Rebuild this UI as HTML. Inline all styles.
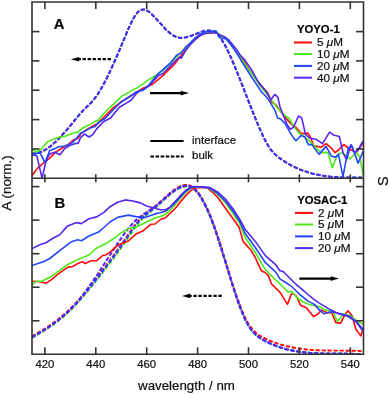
<!DOCTYPE html>
<html><head><meta charset="utf-8"><style>
html,body{margin:0;padding:0;background:#fff;width:389px;height:394px;overflow:hidden}
svg{display:block;font-family:"Liberation Sans",sans-serif;will-change:transform}
text{stroke:#111;stroke-width:0.22px}
</style></head><body>
<svg width="389" height="394" viewBox="0 0 389 394">
<rect width="389" height="394" fill="#fff"/>
<defs><clipPath id="ca"><rect x="32" y="2" width="331.5" height="176.3"/></clipPath><clipPath id="cb"><rect x="32" y="178.3" width="331.5" height="176"/></clipPath></defs>
<g clip-path="url(#ca)">
<path d="M32.0 153.5 L33.5 153.6 L35.0 153.5 L36.5 153.3 L38.0 152.9 L39.5 152.5 L41.0 151.9 L42.5 151.3 L44.0 150.5 L45.5 149.7 L47.0 148.7 L48.5 147.7 L50.0 146.6 L51.5 145.4 L53.0 144.1 L54.5 142.8 L56.0 141.4 L57.5 139.9 L59.0 138.4 L60.5 136.8 L62.0 135.2 L63.5 133.6 L65.0 131.9 L66.5 130.2 L68.0 128.4 L69.5 126.6 L71.0 124.8 L72.5 123.0 L74.0 121.2 L75.5 119.3 L77.0 117.5 L78.5 115.7 L80.0 113.9 L81.5 112.2 L83.0 110.6 L84.5 109.0 L86.0 107.5 L87.5 106.1 L89.0 104.7 L90.5 103.2 L92.0 101.7 L93.5 99.9 L95.0 98.0 L96.5 96.0 L98.0 93.8 L99.5 91.4 L101.0 88.9 L102.5 86.3 L104.0 83.5 L105.5 80.7 L107.0 77.7 L108.5 74.6 L110.0 71.5 L111.5 68.2 L113.0 64.9 L114.5 61.6 L116.0 58.2 L117.5 54.7 L119.0 51.2 L120.5 47.6 L122.0 44.1 L123.5 40.5 L125.0 36.9 L126.5 33.3 L128.0 29.8 L129.5 26.4 L131.0 23.2 L132.5 20.2 L134.0 17.5 L135.5 15.1 L137.0 13.1 L138.5 11.5 L140.0 10.4 L141.5 9.7 L143.0 9.5 L144.5 9.6 L146.0 10.1 L147.5 10.9 L149.0 11.9 L150.5 13.1 L152.0 14.5 L153.5 16.0 L155.0 17.5 L156.5 19.1 L158.0 20.8 L159.5 22.5 L161.0 24.1 L162.5 25.8 L164.0 27.4 L165.5 29.0 L167.0 30.5 L168.5 31.9 L170.0 33.1 L171.5 34.3 L173.0 35.3 L174.5 36.1 L176.0 36.8 L177.5 37.3 L179.0 37.6 L180.5 37.8 L182.0 37.8 L183.5 37.7 L185.0 37.5 L186.5 37.2 L188.0 36.8 L189.5 36.4 L191.0 35.9 L192.5 35.3 L194.0 34.7 L195.5 34.1 L197.0 33.5 L198.5 32.8 L200.0 32.3 L201.5 31.7 L203.0 31.3 L204.5 30.9 L206.0 30.6 L207.5 30.5 L209.0 30.5 L210.5 30.6 L212.0 30.9 L213.5 31.5 L215.0 32.3 L216.5 33.4 L218.0 34.9 L219.5 36.7 L221.0 38.7 L222.5 41.0 L224.0 43.5 L225.5 46.3 L227.0 49.2 L228.5 52.2 L230.0 55.5 L231.5 58.8 L233.0 62.3 L234.5 65.8 L236.0 69.5 L237.5 73.1 L239.0 76.9 L240.5 80.7 L242.0 84.5 L243.5 88.3 L245.0 92.1 L246.5 95.9 L248.0 99.8 L249.5 103.6 L251.0 107.4 L252.5 111.2 L254.0 114.9 L255.5 118.7 L257.0 122.3 L258.5 125.9 L260.0 129.4 L261.5 132.7 L263.0 135.9 L264.5 139.0 L266.0 141.9 L267.5 144.5 L269.0 147.0 L270.5 149.2 L272.0 151.1 L273.5 152.8 L275.0 154.3 L276.5 155.7 L278.0 156.9 L279.5 158.0 L281.0 159.1 L282.5 160.1 L284.0 161.1 L285.5 162.0 L287.0 163.0 L288.5 163.8 L290.0 164.7 L291.5 165.5 L293.0 166.3 L294.5 167.0 L296.0 167.7 L297.5 168.4 L299.0 169.0 L300.5 169.7 L302.0 170.2 L303.5 170.8 L305.0 171.3 L306.5 171.8 L308.0 172.3 L309.5 172.8 L311.0 173.2 L312.5 173.6 L314.0 174.0 L315.5 174.3 L317.0 174.6 L318.5 174.9 L320.0 175.2 L321.5 175.5 L323.0 175.7 L324.5 176.0 L326.0 176.2 L327.5 176.4 L329.0 176.5 L330.5 176.7 L332.0 176.8 L333.5 177.0 L335.0 177.1 L336.5 177.2 L338.0 177.3 L339.5 177.3 L341.0 177.4 L342.5 177.4 L344.0 177.5 L345.5 177.5 L347.0 177.5 L348.5 177.6 L350.0 177.6 L351.5 177.6 L353.0 177.6 L354.5 177.6 L356.0 177.6 L357.5 177.5 L359.0 177.5 L360.5 177.5 L362.0 177.5" stroke="#4ee818" stroke-width="1.5" fill="none" stroke-dasharray="4.2 1.8" stroke-dashoffset="0.4"/>
<path d="M32.0 153.5 L33.5 153.6 L35.0 153.5 L36.5 153.3 L38.0 152.9 L39.5 152.5 L41.0 151.9 L42.5 151.3 L44.0 150.5 L45.5 149.7 L47.0 148.7 L48.5 147.7 L50.0 146.6 L51.5 145.4 L53.0 144.1 L54.5 142.8 L56.0 141.4 L57.5 139.9 L59.0 138.4 L60.5 136.8 L62.0 135.2 L63.5 133.6 L65.0 131.9 L66.5 130.2 L68.0 128.4 L69.5 126.6 L71.0 124.8 L72.5 123.0 L74.0 121.2 L75.5 119.3 L77.0 117.5 L78.5 115.7 L80.0 113.9 L81.5 112.2 L83.0 110.6 L84.5 109.0 L86.0 107.5 L87.5 106.1 L89.0 104.7 L90.5 103.2 L92.0 101.7 L93.5 99.9 L95.0 98.0 L96.5 96.0 L98.0 93.8 L99.5 91.4 L101.0 88.9 L102.5 86.3 L104.0 83.5 L105.5 80.7 L107.0 77.7 L108.5 74.6 L110.0 71.5 L111.5 68.2 L113.0 64.9 L114.5 61.6 L116.0 58.2 L117.5 54.7 L119.0 51.2 L120.5 47.6 L122.0 44.1 L123.5 40.5 L125.0 36.9 L126.5 33.3 L128.0 29.8 L129.5 26.4 L131.0 23.2 L132.5 20.2 L134.0 17.5 L135.5 15.1 L137.0 13.1 L138.5 11.5 L140.0 10.4 L141.5 9.7 L143.0 9.5 L144.5 9.6 L146.0 10.1 L147.5 10.9 L149.0 11.9 L150.5 13.1 L152.0 14.5 L153.5 16.0 L155.0 17.5 L156.5 19.1 L158.0 20.8 L159.5 22.5 L161.0 24.1 L162.5 25.8 L164.0 27.4 L165.5 29.0 L167.0 30.5 L168.5 31.9 L170.0 33.1 L171.5 34.3 L173.0 35.3 L174.5 36.1 L176.0 36.8 L177.5 37.3 L179.0 37.6 L180.5 37.8 L182.0 37.8 L183.5 37.7 L185.0 37.5 L186.5 37.2 L188.0 36.8 L189.5 36.4 L191.0 35.9 L192.5 35.3 L194.0 34.7 L195.5 34.1 L197.0 33.5 L198.5 32.8 L200.0 32.3 L201.5 31.7 L203.0 31.3 L204.5 30.9 L206.0 30.6 L207.5 30.5 L209.0 30.5 L210.5 30.6 L212.0 30.9 L213.5 31.5 L215.0 32.3 L216.5 33.4 L218.0 34.9 L219.5 36.7 L221.0 38.7 L222.5 41.0 L224.0 43.5 L225.5 46.3 L227.0 49.2 L228.5 52.2 L230.0 55.5 L231.5 58.8 L233.0 62.3 L234.5 65.8 L236.0 69.5 L237.5 73.1 L239.0 76.9 L240.5 80.7 L242.0 84.5 L243.5 88.3 L245.0 92.1 L246.5 95.9 L248.0 99.8 L249.5 103.6 L251.0 107.4 L252.5 111.2 L254.0 114.9 L255.5 118.7 L257.0 122.3 L258.5 125.9 L260.0 129.4 L261.5 132.7 L263.0 135.9 L264.5 139.0 L266.0 141.9 L267.5 144.5 L269.0 147.0 L270.5 149.2 L272.0 151.1 L273.5 152.8 L275.0 154.3 L276.5 155.7 L278.0 156.9 L279.5 158.0 L281.0 159.1 L282.5 160.1 L284.0 161.1 L285.5 162.0 L287.0 163.0 L288.5 163.8 L290.0 164.7 L291.5 165.5 L293.0 166.3 L294.5 167.0 L296.0 167.7 L297.5 168.4 L299.0 169.0 L300.5 169.7 L302.0 170.2 L303.5 170.8 L305.0 171.3 L306.5 171.8 L308.0 172.3 L309.5 172.8 L311.0 173.2 L312.5 173.6 L314.0 174.0 L315.5 174.3 L317.0 174.6 L318.5 174.9 L320.0 175.2 L321.5 175.5 L323.0 175.7 L324.5 176.0 L326.0 176.2 L327.5 176.4 L329.0 176.5 L330.5 176.7 L332.0 176.8 L333.5 177.0 L335.0 177.1 L336.5 177.2 L338.0 177.3 L339.5 177.3 L341.0 177.4 L342.5 177.4 L344.0 177.5 L345.5 177.5 L347.0 177.5 L348.5 177.6 L350.0 177.6 L351.5 177.6 L353.0 177.6 L354.5 177.6 L356.0 177.6 L357.5 177.5 L359.0 177.5 L360.5 177.5 L362.0 177.5" stroke="#ff0808" stroke-width="1.2" fill="none" stroke-dasharray="4.2 1.8" stroke-dashoffset="0.2"/>
<path d="M32.0 153.5 L33.5 153.6 L35.0 153.5 L36.5 153.3 L38.0 152.9 L39.5 152.5 L41.0 151.9 L42.5 151.3 L44.0 150.5 L45.5 149.7 L47.0 148.7 L48.5 147.7 L50.0 146.6 L51.5 145.4 L53.0 144.1 L54.5 142.8 L56.0 141.4 L57.5 139.9 L59.0 138.4 L60.5 136.8 L62.0 135.2 L63.5 133.6 L65.0 131.9 L66.5 130.2 L68.0 128.4 L69.5 126.6 L71.0 124.8 L72.5 123.0 L74.0 121.2 L75.5 119.3 L77.0 117.5 L78.5 115.7 L80.0 113.9 L81.5 112.2 L83.0 110.6 L84.5 109.0 L86.0 107.5 L87.5 106.1 L89.0 104.7 L90.5 103.2 L92.0 101.7 L93.5 99.9 L95.0 98.0 L96.5 96.0 L98.0 93.8 L99.5 91.4 L101.0 88.9 L102.5 86.3 L104.0 83.5 L105.5 80.7 L107.0 77.7 L108.5 74.6 L110.0 71.5 L111.5 68.2 L113.0 64.9 L114.5 61.6 L116.0 58.2 L117.5 54.7 L119.0 51.2 L120.5 47.6 L122.0 44.1 L123.5 40.5 L125.0 36.9 L126.5 33.3 L128.0 29.8 L129.5 26.4 L131.0 23.2 L132.5 20.2 L134.0 17.5 L135.5 15.1 L137.0 13.1 L138.5 11.5 L140.0 10.4 L141.5 9.7 L143.0 9.5 L144.5 9.6 L146.0 10.1 L147.5 10.9 L149.0 11.9 L150.5 13.1 L152.0 14.5 L153.5 16.0 L155.0 17.5 L156.5 19.1 L158.0 20.8 L159.5 22.5 L161.0 24.1 L162.5 25.8 L164.0 27.4 L165.5 29.0 L167.0 30.5 L168.5 31.9 L170.0 33.1 L171.5 34.3 L173.0 35.3 L174.5 36.1 L176.0 36.8 L177.5 37.3 L179.0 37.6 L180.5 37.8 L182.0 37.8 L183.5 37.7 L185.0 37.5 L186.5 37.2 L188.0 36.8 L189.5 36.4 L191.0 35.9 L192.5 35.3 L194.0 34.7 L195.5 34.1 L197.0 33.5 L198.5 32.8 L200.0 32.3 L201.5 31.7 L203.0 31.3 L204.5 30.9 L206.0 30.6 L207.5 30.5 L209.0 30.5 L210.5 30.6 L212.0 30.9 L213.5 31.5 L215.0 32.3 L216.5 33.4 L218.0 34.9 L219.5 36.7 L221.0 38.7 L222.5 41.0 L224.0 43.5 L225.5 46.3 L227.0 49.2 L228.5 52.2 L230.0 55.5 L231.5 58.8 L233.0 62.3 L234.5 65.8 L236.0 69.5 L237.5 73.1 L239.0 76.9 L240.5 80.7 L242.0 84.5 L243.5 88.3 L245.0 92.1 L246.5 95.9 L248.0 99.8 L249.5 103.6 L251.0 107.4 L252.5 111.2 L254.0 114.9 L255.5 118.7 L257.0 122.3 L258.5 125.9 L260.0 129.4 L261.5 132.7 L263.0 135.9 L264.5 139.0 L266.0 141.9 L267.5 144.5 L269.0 147.0 L270.5 149.2 L272.0 151.1 L273.5 152.8 L275.0 154.3 L276.5 155.7 L278.0 156.9 L279.5 158.0 L281.0 159.1 L282.5 160.1 L284.0 161.1 L285.5 162.0 L287.0 163.0 L288.5 163.8 L290.0 164.7 L291.5 165.5 L293.0 166.3 L294.5 167.0 L296.0 167.7 L297.5 168.4 L299.0 169.0 L300.5 169.7 L302.0 170.2 L303.5 170.8 L305.0 171.3 L306.5 171.8 L308.0 172.3 L309.5 172.8 L311.0 173.2 L312.5 173.6 L314.0 174.0 L315.5 174.3 L317.0 174.6 L318.5 174.9 L320.0 175.2 L321.5 175.5 L323.0 175.7 L324.5 176.0 L326.0 176.2 L327.5 176.4 L329.0 176.5 L330.5 176.7 L332.0 176.8 L333.5 177.0 L335.0 177.1 L336.5 177.2 L338.0 177.3 L339.5 177.3 L341.0 177.4 L342.5 177.4 L344.0 177.5 L345.5 177.5 L347.0 177.5 L348.5 177.6 L350.0 177.6 L351.5 177.6 L353.0 177.6 L354.5 177.6 L356.0 177.6 L357.5 177.5 L359.0 177.5 L360.5 177.5 L362.0 177.5" stroke="#2446fa" stroke-width="2.2" fill="none" stroke-dasharray="4.2 1.8" stroke-dashoffset="0"/>
<path d="M32.0 153.5 L33.5 153.6 L35.0 153.5 L36.5 153.3 L38.0 152.9 L39.5 152.5 L41.0 151.9 L42.5 151.3 L44.0 150.5 L45.5 149.7 L47.0 148.7 L48.5 147.7 L50.0 146.6 L51.5 145.4 L53.0 144.1 L54.5 142.8 L56.0 141.4 L57.5 139.9 L59.0 138.4 L60.5 136.8 L62.0 135.2 L63.5 133.6 L65.0 131.9 L66.5 130.2 L68.0 128.4 L69.5 126.6 L71.0 124.8 L72.5 123.0 L74.0 121.2 L75.5 119.3 L77.0 117.5 L78.5 115.7 L80.0 113.9 L81.5 112.2 L83.0 110.6 L84.5 109.0 L86.0 107.5 L87.5 106.1 L89.0 104.7 L90.5 103.2 L92.0 101.7 L93.5 99.9 L95.0 98.0 L96.5 96.0 L98.0 93.8 L99.5 91.4 L101.0 88.9 L102.5 86.3 L104.0 83.5 L105.5 80.7 L107.0 77.7 L108.5 74.6 L110.0 71.5 L111.5 68.2 L113.0 64.9 L114.5 61.6 L116.0 58.2 L117.5 54.7 L119.0 51.2 L120.5 47.6 L122.0 44.1 L123.5 40.5 L125.0 36.9 L126.5 33.3 L128.0 29.8 L129.5 26.4 L131.0 23.2 L132.5 20.2 L134.0 17.5 L135.5 15.1 L137.0 13.1 L138.5 11.5 L140.0 10.4 L141.5 9.7 L143.0 9.5 L144.5 9.6 L146.0 10.1 L147.5 10.9 L149.0 11.9 L150.5 13.1 L152.0 14.5 L153.5 16.0 L155.0 17.5 L156.5 19.1 L158.0 20.8 L159.5 22.5 L161.0 24.1 L162.5 25.8 L164.0 27.4 L165.5 29.0 L167.0 30.5 L168.5 31.9 L170.0 33.1 L171.5 34.3 L173.0 35.3 L174.5 36.1 L176.0 36.8 L177.5 37.3 L179.0 37.6 L180.5 37.8 L182.0 37.8 L183.5 37.7 L185.0 37.5 L186.5 37.2 L188.0 36.8 L189.5 36.4 L191.0 35.9 L192.5 35.3 L194.0 34.7 L195.5 34.1 L197.0 33.5 L198.5 32.8 L200.0 32.3 L201.5 31.7 L203.0 31.3 L204.5 30.9 L206.0 30.6 L207.5 30.5 L209.0 30.5 L210.5 30.6 L212.0 30.9 L213.5 31.5 L215.0 32.3 L216.5 33.4 L218.0 34.9 L219.5 36.7 L221.0 38.7 L222.5 41.0 L224.0 43.5 L225.5 46.3 L227.0 49.2 L228.5 52.2 L230.0 55.5 L231.5 58.8 L233.0 62.3 L234.5 65.8 L236.0 69.5 L237.5 73.1 L239.0 76.9 L240.5 80.7 L242.0 84.5 L243.5 88.3 L245.0 92.1 L246.5 95.9 L248.0 99.8 L249.5 103.6 L251.0 107.4 L252.5 111.2 L254.0 114.9 L255.5 118.7 L257.0 122.3 L258.5 125.9 L260.0 129.4 L261.5 132.7 L263.0 135.9 L264.5 139.0 L266.0 141.9 L267.5 144.5 L269.0 147.0 L270.5 149.2 L272.0 151.1 L273.5 152.8 L275.0 154.3 L276.5 155.7 L278.0 156.9 L279.5 158.0 L281.0 159.1 L282.5 160.1 L284.0 161.1 L285.5 162.0 L287.0 163.0 L288.5 163.8 L290.0 164.7 L291.5 165.5 L293.0 166.3 L294.5 167.0 L296.0 167.7 L297.5 168.4 L299.0 169.0 L300.5 169.7 L302.0 170.2 L303.5 170.8 L305.0 171.3 L306.5 171.8 L308.0 172.3 L309.5 172.8 L311.0 173.2 L312.5 173.6 L314.0 174.0 L315.5 174.3 L317.0 174.6 L318.5 174.9 L320.0 175.2 L321.5 175.5 L323.0 175.7 L324.5 176.0 L326.0 176.2 L327.5 176.4 L329.0 176.5 L330.5 176.7 L332.0 176.8 L333.5 177.0 L335.0 177.1 L336.5 177.2 L338.0 177.3 L339.5 177.3 L341.0 177.4 L342.5 177.4 L344.0 177.5 L345.5 177.5 L347.0 177.5 L348.5 177.6 L350.0 177.6 L351.5 177.6 L353.0 177.6 L354.5 177.6 L356.0 177.6 L357.5 177.5 L359.0 177.5 L360.5 177.5 L362.0 177.5" stroke="#5426f0" stroke-width="1.5" fill="none" stroke-dasharray="4.2 1.8" stroke-dashoffset="0"/>
<path d="M32.0 175.7 L37.6 168.1 L42.7 163.7 L49.0 158.6 L56.2 151.6 L62.3 148.0 L68.4 144.3 L73.3 140.0 L78.2 138.2 L81.2 133.3 L86.7 129.7 L91.6 126.6 L98.0 123.1 L105.6 115.5 L113.2 107.9 L120.8 102.2 L129.7 96.5 L136.0 92.7 L143.0 88.2 L152.2 84.5 L164.4 74.3 L173.5 65.2 L182.7 53.7 L185.0 50.7 L190.1 44.6 L195.3 39.4 L200.4 35.3 L205.6 33.2 L210.7 33.0 L215.8 32.2 L220.0 35.0 L224.0 37.1 L229.0 41.5 L235.4 49.5 L240.5 56.5 L244.3 62.0 L249.6 70.2 L258.7 82.4 L267.8 93.0 L271.6 102.1 L275.4 104.4 L282.6 114.0 L287.7 120.4 L292.8 125.5 L296.6 128.0 L300.4 133.1 L304.2 133.7 L308.0 133.1 L310.0 136.3 L313.7 145.5 L320.8 147.3 L326.1 143.7 L331.4 148.2 L335.0 152.6 L338.5 150.0 L343.9 144.6 L351.0 150.0 L356.3 152.6 L362.5 143.7 L366.0 140.0" stroke="#ff0808" stroke-width="1.6" fill="none" stroke-linejoin="round"/>
<path d="M32.0 149.0 L36.3 152.2 L41.4 149.0 L47.8 141.4 L54.1 139.1 L59.9 137.0 L64.8 136.4 L69.6 134.6 L74.5 132.5 L78.2 132.1 L81.8 128.5 L86.7 126.0 L91.6 123.6 L95.2 121.1 L98.0 120.6 L104.3 113.0 L110.7 106.6 L114.5 103.4 L122.1 95.8 L125.9 94.2 L132.2 90.1 L136.0 88.6 L143.0 83.8 L147.6 80.4 L155.2 75.8 L162.9 70.5 L170.5 63.6 L178.1 55.2 L185.0 48.8 L190.1 43.5 L195.3 38.3 L200.4 34.2 L205.6 32.1 L210.7 31.9 L215.8 31.1 L220.0 35.2 L224.0 37.3 L229.0 41.8 L235.4 50.0 L240.5 57.5 L245.0 64.5 L252.6 74.8 L258.7 83.9 L264.8 91.5 L270.9 99.1 L276.9 107.5 L283.9 114.7 L289.0 118.5 L294.0 126.7 L299.1 133.1 L305.5 137.5 L311.8 143.3 L320.8 152.6 L327.9 152.6 L332.3 167.7 L337.6 154.4 L342.1 152.6 L350.1 158.8 L356.3 152.6 L359.8 157.1 L363.4 175.7 L366.0 180.0" stroke="#4ee818" stroke-width="1.6" fill="none" stroke-linejoin="round"/>
<path d="M32.0 153.9 L36.9 156.1 L42.1 178.4 L45.5 163.0 L49.0 154.5 L52.2 153.0 L55.0 152.2 L59.9 154.7 L64.8 148.6 L70.9 144.9 L74.5 143.7 L78.2 143.1 L80.6 137.6 L84.3 134.0 L89.1 137.0 L92.8 134.6 L96.5 129.1 L100.0 125.4 L104.3 121.2 L110.7 118.0 L114.5 113.0 L119.5 107.2 L125.9 103.4 L131.0 100.3 L136.0 93.9 L139.8 90.8 L143.0 90.1 L149.1 85.7 L158.3 75.8 L162.9 73.5 L170.5 65.9 L179.6 56.8 L181.2 58.3 L185.5 50.9 L190.1 44.6 L195.3 39.4 L200.4 35.3 L205.6 33.2 L210.7 33.0 L215.8 32.2 L218.3 34.5 L224.0 36.4 L229.0 40.2 L235.4 47.9 L240.5 55.5 L244.3 59.3 L250.3 67.9 L252.6 71.7 L257.2 80.1 L260.2 84.7 L266.3 91.5 L270.9 99.9 L274.7 94.5 L277.7 96.8 L280.0 106.7 L283.3 115.3 L287.1 124.8 L290.2 129.3 L293.4 127.4 L298.5 116.0 L301.7 117.9 L305.5 134.4 L309.9 138.2 L316.3 139.3 L322.5 143.7 L329.6 132.2 L333.2 134.9 L339.4 136.6 L343.0 152.6 L346.5 159.7 L351.0 144.6 L354.5 152.6 L358.1 150.0 L362.5 142.0 L366.0 138.0" stroke="#5426f0" stroke-width="1.6" fill="none" stroke-linejoin="round"/>
<path d="M32.0 155.7 L36.0 153.5 L40.1 152.9 L45.0 162.6 L49.6 150.8 L55.0 148.6 L58.7 146.8 L64.8 146.1 L68.4 144.9 L73.3 141.9 L80.6 133.3 L85.5 130.9 L90.4 127.9 L95.2 126.6 L98.0 123.1 L105.6 118.0 L113.2 109.8 L120.8 102.2 L125.9 99.0 L131.0 95.8 L136.0 92.0 L143.0 90.1 L147.6 86.5 L158.3 73.5 L162.9 69.7 L170.5 62.9 L176.6 55.2 L181.2 53.0 L185.7 47.0 L190.1 43.1 L195.3 37.9 L200.4 33.8 L205.6 31.7 L210.7 31.5 L215.8 30.9 L220.2 37.7 L226.5 39.0 L235.4 51.0 L244.3 65.6 L251.1 76.3 L257.2 85.4 L261.7 92.3 L266.3 96.8 L270.1 102.1 L275.4 111.3 L277.5 117.9 L280.7 119.1 L285.2 123.6 L289.0 130.6 L292.8 136.9 L296.0 140.7 L301.0 135.6 L304.8 136.9 L308.3 144.6 L311.9 144.6 L319.0 154.4 L326.1 146.4 L331.4 156.2 L335.9 157.1 L338.5 154.4 L343.0 176.6 L348.3 148.2 L351.8 145.5 L358.1 163.3 L363.4 150.9 L366.0 146.0" stroke="#2446fa" stroke-width="1.6" fill="none" stroke-linejoin="round"/>
</g>
<g clip-path="url(#cb)">
<path d="M32.0 338.1 L33.5 337.2 L35.0 336.4 L36.5 335.5 L38.0 334.6 L39.5 333.7 L41.0 332.8 L42.5 331.9 L44.0 331.0 L45.5 330.1 L47.0 329.1 L48.5 328.1 L50.0 327.1 L51.5 326.1 L53.0 325.0 L54.5 323.9 L56.0 322.8 L57.5 321.7 L59.1 320.5 L60.6 319.2 L62.1 318.0 L63.6 316.7 L65.1 315.4 L66.7 314.0 L68.2 312.6 L69.7 311.1 L71.3 309.6 L72.9 308.0 L74.4 306.4 L76.0 304.8 L77.6 303.1 L79.2 301.3 L80.8 299.5 L82.5 297.6 L84.1 295.7 L85.8 293.7 L87.5 291.7 L89.2 289.6 L90.9 287.5 L92.6 285.4 L94.4 283.2 L96.1 281.1 L97.9 278.8 L99.7 276.6 L101.5 274.4 L103.2 272.1 L105.0 269.8 L106.8 267.5 L108.6 265.2 L110.4 262.9 L112.2 260.5 L113.9 258.2 L115.6 255.9 L117.3 253.6 L119.0 251.3 L120.7 249.0 L122.3 246.7 L123.8 244.5 L125.4 242.3 L126.9 240.1 L128.4 237.9 L129.8 235.8 L131.2 233.7 L132.6 231.8 L133.9 229.8 L135.2 228.0 L136.5 226.2 L137.7 224.6 L139.0 223.0 L140.2 221.5 L141.4 220.2 L142.6 218.9 L143.8 217.7 L145.0 216.6 L146.3 215.5 L147.5 214.5 L148.7 213.5 L149.9 212.5 L151.2 211.5 L152.5 210.5 L153.7 209.5 L155.0 208.5 L156.3 207.4 L157.7 206.2 L159.0 205.0 L160.4 203.7 L161.7 202.5 L163.1 201.2 L164.5 199.8 L166.0 198.5 L167.4 197.2 L168.8 196.0 L170.3 194.7 L171.7 193.6 L173.2 192.4 L174.6 191.4 L176.1 190.4 L177.6 189.5 L179.1 188.7 L180.6 188.1 L182.0 187.5 L183.5 187.1 L185.0 186.9 L186.5 186.8 L188.0 186.9 L189.5 187.3 L191.0 187.8 L192.5 188.6 L194.0 189.7 L195.5 191.1 L197.0 192.7 L198.5 194.6 L200.0 196.8 L201.5 199.2 L203.0 201.8 L204.5 204.6 L206.0 207.7 L207.5 210.9 L209.0 214.3 L210.5 217.9 L212.0 221.8 L213.5 225.8 L215.0 230.1 L216.5 234.5 L218.0 239.0 L219.5 243.7 L221.0 248.4 L222.5 253.2 L224.0 258.1 L225.5 263.0 L227.0 267.9 L228.5 272.8 L230.0 277.7 L231.5 282.5 L233.0 287.2 L234.5 291.8 L236.0 296.3 L237.5 300.7 L239.0 304.9 L240.5 308.9 L242.0 312.7 L243.5 316.2 L245.0 319.5 L246.5 322.5 L248.0 325.2 L249.5 327.6 L251.0 329.8 L252.5 331.6 L254.0 333.3 L255.5 334.8 L257.0 336.1 L258.5 337.2 L260.0 338.2 L261.5 339.2 L263.0 340.0 L264.5 340.8 L266.0 341.6 L267.5 342.3 L269.0 343.0 L270.5 343.6 L272.0 344.3 L273.5 344.9 L275.0 345.5 L276.5 346.0 L278.0 346.5 L279.5 347.0 L281.0 347.5 L282.5 347.9 L284.0 348.4 L285.5 348.8 L287.0 349.2 L288.5 349.5 L290.0 349.9 L291.5 350.2 L293.0 350.5 L294.5 350.8 L296.0 351.1 L297.5 351.3 L299.0 351.6 L300.5 351.8 L302.0 352.0 L303.5 352.2 L305.0 352.3 L306.5 352.5 L308.0 352.6 L309.5 352.8 L311.0 352.9 L312.5 353.0 L314.0 353.1 L315.5 353.2 L317.0 353.2 L318.5 353.3 L320.0 353.4 L321.5 353.4 L323.0 353.4 L324.5 353.5 L326.0 353.5 L327.5 353.5 L329.0 353.5 L330.5 353.6 L332.0 353.6 L333.5 353.6 L335.0 353.6 L336.5 353.6 L338.0 353.6 L339.5 353.6 L341.0 353.6 L342.5 353.6 L344.0 353.6 L345.5 353.6 L347.0 353.7 L348.5 353.7 L350.0 353.7 L351.5 353.7 L353.0 353.8 L354.5 353.8 L356.0 353.9 L357.5 353.9 L359.0 354.0 L360.5 354.1 L362.0 354.2" stroke="#4ee818" stroke-width="1.6" fill="none" stroke-dasharray="4.2 1.8" stroke-dashoffset="0.4"/>
<path d="M32.0 336.2 L33.5 335.3 L35.0 334.5 L36.5 333.6 L38.0 332.7 L39.5 331.8 L41.0 330.9 L42.5 330.0 L44.0 329.1 L45.5 328.2 L47.0 327.2 L48.5 326.2 L50.0 325.2 L51.5 324.2 L53.0 323.1 L54.5 322.0 L56.0 320.9 L57.5 319.8 L59.0 318.6 L60.6 317.3 L62.1 316.1 L63.6 314.8 L65.1 313.5 L66.6 312.1 L68.2 310.7 L69.7 309.2 L71.2 307.7 L72.8 306.1 L74.3 304.5 L75.9 302.9 L77.5 301.2 L79.1 299.4 L80.7 297.6 L82.3 295.7 L83.9 293.8 L85.5 291.8 L87.2 289.8 L88.9 287.7 L90.5 285.6 L92.2 283.5 L93.9 281.3 L95.6 279.2 L97.3 276.9 L99.1 274.7 L100.8 272.5 L102.5 270.2 L104.3 267.9 L106.0 265.6 L107.8 263.3 L109.5 261.0 L111.2 258.6 L112.9 256.3 L114.6 254.0 L116.2 251.7 L117.9 249.4 L119.5 247.1 L121.1 244.8 L122.7 242.6 L124.2 240.4 L125.7 238.2 L127.2 236.0 L128.6 233.9 L130.0 231.8 L131.4 229.9 L132.8 227.9 L134.1 226.1 L135.5 224.3 L136.8 222.7 L138.0 221.1 L139.3 219.6 L140.6 218.3 L141.9 217.0 L143.1 215.8 L144.4 214.7 L145.6 213.6 L146.9 212.6 L148.2 211.6 L149.5 210.6 L150.8 209.6 L152.1 208.6 L153.4 207.6 L154.7 206.6 L156.1 205.5 L157.5 204.3 L158.8 203.1 L160.2 201.8 L161.6 200.6 L163.0 199.3 L164.4 197.9 L165.9 196.6 L167.3 195.3 L168.8 194.1 L170.2 192.8 L171.7 191.7 L173.1 190.5 L174.6 189.5 L176.1 188.5 L177.6 187.6 L179.1 186.8 L180.5 186.2 L182.0 185.6 L183.5 185.2 L185.0 185.0 L186.5 184.9 L188.0 185.0 L189.5 185.4 L191.0 185.9 L192.5 186.7 L194.0 187.8 L195.5 189.2 L197.0 190.8 L198.5 192.7 L200.0 194.9 L201.5 197.3 L203.0 199.9 L204.5 202.7 L206.0 205.8 L207.5 209.0 L209.0 212.4 L210.5 216.0 L212.0 219.9 L213.5 223.9 L215.0 228.2 L216.5 232.6 L218.0 237.1 L219.5 241.8 L221.0 246.5 L222.5 251.3 L224.0 256.2 L225.5 261.1 L227.0 266.0 L228.5 270.8 L230.0 275.7 L231.5 280.5 L233.0 285.2 L234.5 289.8 L236.0 294.2 L237.5 298.6 L239.0 302.7 L240.5 306.7 L242.0 310.5 L243.5 314.0 L245.0 317.3 L246.5 320.2 L248.0 322.9 L249.5 325.3 L251.0 327.4 L252.5 329.2 L254.0 330.9 L255.5 332.3 L257.0 333.6 L258.5 334.7 L260.0 335.7 L261.5 336.6 L263.0 337.4 L264.5 338.2 L266.0 338.9 L267.5 339.6 L269.0 340.3 L270.5 340.9 L272.0 341.5 L273.5 342.1 L275.0 342.7 L276.5 343.2 L278.0 343.7 L279.5 344.1 L281.0 344.6 L282.5 345.0 L284.0 345.4 L285.5 345.8 L287.0 346.2 L288.5 346.5 L290.0 346.9 L291.5 347.2 L293.0 347.5 L294.5 347.8 L296.0 348.1 L297.5 348.3 L299.0 348.6 L300.5 348.8 L302.0 349.0 L303.5 349.2 L305.0 349.3 L306.5 349.5 L308.0 349.6 L309.5 349.8 L311.0 349.9 L312.5 350.0 L314.0 350.1 L315.5 350.2 L317.0 350.2 L318.5 350.3 L320.0 350.4 L321.5 350.4 L323.0 350.4 L324.5 350.5 L326.0 350.5 L327.5 350.5 L329.0 350.5 L330.5 350.6 L332.0 350.6 L333.5 350.6 L335.0 350.6 L336.5 350.6 L338.0 350.6 L339.5 350.6 L341.0 350.6 L342.5 350.6 L344.0 350.6 L345.5 350.6 L347.0 350.7 L348.5 350.7 L350.0 350.7 L351.5 350.7 L353.0 350.8 L354.5 350.8 L356.0 350.9 L357.5 350.9 L359.0 351.0 L360.5 351.1 L362.0 351.2" stroke="#ff0808" stroke-width="1.9" fill="none" stroke-dasharray="4.2 1.8" stroke-dashoffset="0.2"/>
<path d="M32.0 337.2 L33.5 336.3 L35.0 335.5 L36.5 334.6 L38.0 333.7 L39.5 332.8 L41.0 331.9 L42.5 331.0 L44.0 330.1 L45.5 329.2 L47.0 328.2 L48.5 327.2 L50.0 326.2 L51.5 325.2 L53.0 324.1 L54.5 323.0 L56.0 321.9 L57.5 320.8 L59.0 319.6 L60.6 318.3 L62.1 317.1 L63.6 315.8 L65.1 314.5 L66.6 313.1 L68.2 311.7 L69.7 310.2 L71.3 308.7 L72.8 307.1 L74.4 305.5 L75.9 303.9 L77.5 302.2 L79.1 300.4 L80.7 298.6 L82.3 296.7 L83.9 294.8 L85.6 292.8 L87.2 290.8 L88.9 288.7 L90.6 286.6 L92.3 284.5 L94.0 282.3 L95.7 280.2 L97.4 277.9 L99.2 275.7 L100.9 273.5 L102.7 271.2 L104.4 268.9 L106.2 266.6 L107.9 264.3 L109.6 262.0 L111.4 259.6 L113.1 257.3 L114.8 255.0 L116.4 252.7 L118.1 250.4 L119.7 248.1 L121.3 245.8 L122.9 243.6 L124.4 241.4 L125.9 239.2 L127.4 237.0 L128.8 234.9 L130.2 232.8 L131.6 230.9 L133.0 228.9 L134.3 227.1 L135.6 225.3 L136.9 223.7 L138.2 222.1 L139.5 220.6 L140.7 219.3 L142.0 218.0 L143.2 216.8 L144.5 215.7 L145.8 214.6 L147.0 213.6 L148.3 212.6 L149.6 211.6 L150.8 210.6 L152.1 209.6 L153.5 208.6 L154.8 207.6 L156.1 206.5 L157.5 205.3 L158.9 204.1 L160.2 202.8 L161.6 201.6 L163.0 200.3 L164.5 198.9 L165.9 197.6 L167.3 196.3 L168.8 195.1 L170.2 193.8 L171.7 192.7 L173.2 191.5 L174.6 190.5 L176.1 189.5 L177.6 188.6 L179.1 187.8 L180.6 187.2 L182.0 186.6 L183.5 186.2 L185.0 186.0 L186.5 185.9 L188.0 186.0 L189.5 186.4 L191.0 186.9 L192.5 187.7 L194.0 188.8 L195.5 190.2 L197.0 191.8 L198.5 193.7 L200.0 195.9 L201.5 198.3 L203.0 200.9 L204.5 203.7 L206.0 206.8 L207.5 210.0 L209.0 213.4 L210.5 217.0 L212.0 220.9 L213.5 224.9 L215.0 229.2 L216.5 233.6 L218.0 238.1 L219.5 242.8 L221.0 247.5 L222.5 252.3 L224.0 257.2 L225.5 262.1 L227.0 267.1 L228.5 272.0 L230.0 276.9 L231.5 281.7 L233.0 286.5 L234.5 291.1 L236.0 295.7 L237.5 300.1 L239.0 304.3 L240.5 308.3 L242.0 312.1 L243.5 315.7 L245.0 319.0 L246.5 322.1 L248.0 324.8 L249.5 327.2 L251.0 329.4 L252.5 331.3 L254.0 333.0 L255.5 334.5 L257.0 335.8 L258.5 337.0 L260.0 338.0 L261.5 339.0 L263.0 339.9 L264.5 340.7 L266.0 341.5 L267.5 342.2 L269.0 343.0 L270.5 343.7 L272.0 344.3 L273.5 345.0 L275.0 345.6 L276.5 346.1 L278.0 346.7 L279.5 347.2 L281.0 347.7 L282.5 348.2 L284.0 348.6 L285.5 349.1 L287.0 349.5 L288.5 349.8 L290.0 350.2 L291.5 350.5 L293.0 350.8 L294.5 351.1 L296.0 351.4 L297.5 351.6 L299.0 351.9 L300.5 352.1 L302.0 352.3 L303.5 352.5 L305.0 352.6 L306.5 352.8 L308.0 352.9 L309.5 353.1 L311.0 353.2 L312.5 353.3 L314.0 353.4 L315.5 353.5 L317.0 353.5 L318.5 353.6 L320.0 353.7 L321.5 353.7 L323.0 353.7 L324.5 353.8 L326.0 353.8 L327.5 353.8 L329.0 353.8 L330.5 353.9 L332.0 353.9 L333.5 353.9 L335.0 353.9 L336.5 353.9 L338.0 353.9 L339.5 353.9 L341.0 353.9 L342.5 353.9 L344.0 353.9 L345.5 353.9 L347.0 354.0 L348.5 354.0 L350.0 354.0 L351.5 354.0 L353.0 354.1 L354.5 354.1 L356.0 354.2 L357.5 354.2 L359.0 354.3 L360.5 354.4 L362.0 354.5" stroke="#2446fa" stroke-width="2.2" fill="none" stroke-dasharray="4.2 1.8" stroke-dashoffset="0"/>
<path d="M32.0 337.2 L33.5 336.3 L35.0 335.5 L36.5 334.6 L38.0 333.7 L39.5 332.8 L41.0 331.9 L42.5 331.0 L44.0 330.1 L45.5 329.2 L47.0 328.2 L48.5 327.2 L50.0 326.2 L51.5 325.2 L53.0 324.1 L54.5 323.0 L56.0 321.9 L57.5 320.8 L59.0 319.6 L60.5 318.3 L62.0 317.1 L63.5 315.8 L65.0 314.5 L66.5 313.1 L68.0 311.7 L69.5 310.2 L71.0 308.7 L72.5 307.1 L74.0 305.5 L75.5 303.9 L77.0 302.2 L78.5 300.4 L80.0 298.6 L81.5 296.7 L83.0 294.8 L84.5 292.8 L86.0 290.8 L87.5 288.7 L89.0 286.6 L90.5 284.5 L92.0 282.3 L93.5 280.2 L95.0 277.9 L96.5 275.7 L98.0 273.5 L99.5 271.2 L101.0 268.9 L102.5 266.6 L104.0 264.3 L105.5 262.0 L107.0 259.6 L108.5 257.3 L110.0 255.0 L111.5 252.7 L113.0 250.4 L114.5 248.1 L116.0 245.8 L117.5 243.6 L119.0 241.4 L120.5 239.2 L122.0 237.0 L123.5 234.9 L125.0 232.8 L126.5 230.9 L128.0 228.9 L129.5 227.1 L131.0 225.3 L132.5 223.7 L134.0 222.1 L135.5 220.6 L137.0 219.3 L138.5 218.0 L140.0 216.8 L141.5 215.7 L143.0 214.6 L144.5 213.6 L146.0 212.6 L147.5 211.6 L149.0 210.6 L150.5 209.6 L152.0 208.6 L153.5 207.6 L155.0 206.5 L156.5 205.3 L158.0 204.1 L159.5 202.8 L161.0 201.6 L162.5 200.3 L164.0 198.9 L165.5 197.6 L167.0 196.3 L168.5 195.1 L170.0 193.8 L171.5 192.7 L173.0 191.5 L174.5 190.5 L176.0 189.5 L177.5 188.6 L179.0 187.8 L180.5 187.2 L182.0 186.6 L183.5 186.2 L185.0 186.0 L186.5 185.9 L188.0 186.0 L189.5 186.4 L191.0 186.9 L192.5 187.7 L194.0 188.8 L195.5 190.2 L197.0 191.8 L198.5 193.7 L200.0 195.9 L201.5 198.3 L203.0 200.9 L204.5 203.7 L206.0 206.8 L207.5 210.0 L209.0 213.4 L210.5 217.0 L212.0 220.9 L213.5 224.9 L215.0 229.2 L216.5 233.6 L218.0 238.1 L219.5 242.8 L221.0 247.5 L222.5 252.3 L224.0 257.2 L225.5 262.1 L227.0 267.0 L228.5 272.0 L230.0 276.8 L231.5 281.7 L233.0 286.4 L234.5 291.1 L236.0 295.6 L237.5 300.0 L239.0 304.2 L240.5 308.2 L242.0 312.0 L243.5 315.6 L245.0 318.9 L246.5 321.9 L248.0 324.7 L249.5 327.1 L251.0 329.2 L252.5 331.2 L254.0 332.8 L255.5 334.3 L257.0 335.7 L258.5 336.8 L260.0 337.9 L261.5 338.8 L263.0 339.7 L264.5 340.5 L266.0 341.3 L267.5 342.0 L269.0 342.7 L270.5 343.4 L272.0 344.1 L273.5 344.7 L275.0 345.3 L276.5 345.9 L278.0 346.4 L279.5 347.0 L281.0 347.4 L282.5 347.9 L284.0 348.4 L285.5 348.8 L287.0 349.2 L288.5 349.5 L290.0 349.9 L291.5 350.2 L293.0 350.5 L294.5 350.8 L296.0 351.1 L297.5 351.3 L299.0 351.6 L300.5 351.8 L302.0 352.0 L303.5 352.2 L305.0 352.3 L306.5 352.5 L308.0 352.6 L309.5 352.8 L311.0 352.9 L312.5 353.0 L314.0 353.1 L315.5 353.2 L317.0 353.2 L318.5 353.3 L320.0 353.4 L321.5 353.4 L323.0 353.4 L324.5 353.5 L326.0 353.5 L327.5 353.5 L329.0 353.5 L330.5 353.6 L332.0 353.6 L333.5 353.6 L335.0 353.6 L336.5 353.6 L338.0 353.6 L339.5 353.6 L341.0 353.6 L342.5 353.6 L344.0 353.6 L345.5 353.6 L347.0 353.7 L348.5 353.7 L350.0 353.7 L351.5 353.7 L353.0 353.8 L354.5 353.8 L356.0 353.9 L357.5 353.9 L359.0 354.0 L360.5 354.1 L362.0 354.2" stroke="#5426f0" stroke-width="2.0" fill="none" stroke-dasharray="4.2 1.8" stroke-dashoffset="0"/>
<path d="M32.0 281.3 L39.9 281.7 L45.8 283.3 L51.8 279.3 L57.7 274.4 L67.6 267.4 L72.6 266.5 L77.6 263.6 L82.4 261.7 L85.2 263.6 L91.0 260.7 L96.7 260.7 L102.7 255.5 L106.5 254.7 L111.6 250.9 L115.4 247.1 L120.5 243.9 L128.3 241.0 L135.9 234.1 L142.7 231.1 L148.1 226.5 L151.1 224.2 L155.0 224.0 L161.2 219.0 L165.3 218.0 L169.4 213.9 L173.5 210.3 L176.6 206.7 L180.7 201.5 L185.8 195.4 L191.0 190.7 L195.0 187.7 L207.2 187.6 L213.3 192.9 L217.8 197.5 L225.4 208.2 L233.1 218.8 L239.1 227.2 L243.1 241.4 L251.2 250.5 L255.3 257.6 L261.4 270.8 L265.4 272.8 L268.5 275.9 L271.5 284.0 L279.9 292.1 L287.4 304.4 L291.5 293.7 L293.1 293.7 L296.4 296.2 L300.5 305.2 L306.3 307.7 L309.6 311.8 L313.5 316.6 L318.3 313.8 L321.2 309.9 L327.0 312.8 L331.8 312.8 L335.7 322.4 L340.5 323.4 L345.3 313.8 L348.2 310.9 L352.1 315.7 L355.9 329.2 L360.8 335.9 L363.6 327.3 L366.0 322.0" stroke="#ff0808" stroke-width="1.6" fill="none" stroke-linejoin="round"/>
<path d="M32.0 285.3 L35.9 281.3 L41.9 281.3 L49.8 277.3 L59.7 270.4 L67.6 264.5 L75.0 261.1 L79.5 258.8 L89.0 255.0 L96.3 248.3 L106.5 243.2 L115.4 237.5 L119.1 234.1 L128.3 228.8 L137.4 226.5 L146.5 222.0 L155.0 218.0 L160.1 216.4 L165.3 214.4 L170.4 209.8 L175.6 204.1 L180.7 197.9 L185.8 192.3 L191.0 188.2 L195.0 186.9 L204.4 186.8 L210.2 188.8 L217.8 194.5 L225.4 202.8 L233.1 213.5 L240.0 224.1 L245.1 237.3 L255.3 252.5 L265.4 269.8 L275.6 279.9 L281.6 285.5 L288.2 292.1 L291.5 291.2 L296.4 297.0 L303.0 302.0 L309.6 304.4 L316.2 306.1 L320.0 306.9 L325.1 309.9 L332.8 311.8 L337.6 321.5 L343.4 313.8 L350.1 315.7 L357.9 321.5 L363.6 324.4 L366.0 326.0" stroke="#4ee818" stroke-width="1.6" fill="none" stroke-linejoin="round"/>
<path d="M32.0 265.5 L37.9 263.5 L43.9 261.5 L49.8 258.5 L59.7 250.6 L67.6 244.7 L71.6 241.7 L77.6 239.8 L81.4 240.7 L89.0 236.0 L98.6 232.1 L106.2 225.5 L110.0 222.0 L117.6 217.4 L128.3 215.1 L135.9 216.6 L145.0 217.4 L155.0 213.9 L160.1 212.8 L165.3 211.3 L170.4 207.2 L175.6 202.1 L180.7 196.4 L185.8 191.3 L191.0 187.7 L195.0 186.6 L202.6 187.0 L210.2 188.4 L217.8 193.7 L225.4 201.3 L233.1 211.2 L240.0 221.9 L245.1 233.3 L255.3 247.5 L265.4 262.7 L275.6 271.8 L279.9 278.9 L286.5 283.0 L291.5 286.3 L299.7 294.5 L308.0 301.1 L314.5 304.4 L319.3 309.9 L324.1 313.8 L330.9 311.8 L340.5 313.8 L350.1 316.6 L357.9 323.4 L363.6 330.1 L366.0 333.0" stroke="#2446fa" stroke-width="1.6" fill="none" stroke-linejoin="round"/>
<path d="M32.0 248.6 L39.9 244.7 L45.8 242.7 L53.8 237.7 L59.7 234.8 L67.6 225.9 L76.7 222.6 L81.4 223.6 L89.0 218.8 L96.7 216.9 L104.3 212.1 L110.0 206.7 L117.6 202.2 L125.2 199.9 L132.8 201.0 L140.4 202.9 L146.5 206.0 L155.0 208.2 L160.1 209.8 L165.3 209.8 L169.4 207.7 L175.6 201.0 L180.7 195.4 L185.8 190.2 L191.0 187.1 L195.0 186.7 L202.6 186.8 L210.2 187.6 L217.8 192.2 L225.4 199.0 L233.1 208.9 L240.0 219.6 L245.1 229.2 L255.3 241.4 L265.4 255.6 L275.6 264.7 L279.9 270.7 L283.2 271.5 L291.5 279.7 L296.4 284.7 L301.4 288.8 L308.0 294.5 L312.9 298.7 L319.3 303.1 L328.9 308.9 L338.6 313.8 L348.2 316.6 L355.9 321.5 L363.6 332.1 L366.0 336.0" stroke="#5426f0" stroke-width="1.6" fill="none" stroke-linejoin="round"/>
</g>
<g stroke="#333" stroke-width="1.6" fill="none">
<path d="M32 2 H363.5 V354.3 H32 Z"/>
<path d="M32 178.3 H363.5"/>
<path d="M44.9 2 V9"/>
<path d="M44.9 174.3 V182.3"/>
<path d="M44.9 354.3 V347.3"/>
<path d="M95.8 2 V9"/>
<path d="M95.8 174.3 V182.3"/>
<path d="M95.8 354.3 V347.3"/>
<path d="M146.7 2 V9"/>
<path d="M146.7 174.3 V182.3"/>
<path d="M146.7 354.3 V347.3"/>
<path d="M197.6 2 V9"/>
<path d="M197.6 174.3 V182.3"/>
<path d="M197.6 354.3 V347.3"/>
<path d="M248.5 2 V9"/>
<path d="M248.5 174.3 V182.3"/>
<path d="M248.5 354.3 V347.3"/>
<path d="M299.4 2 V9"/>
<path d="M299.4 174.3 V182.3"/>
<path d="M299.4 354.3 V347.3"/>
<path d="M350.3 2 V9"/>
<path d="M350.3 174.3 V182.3"/>
<path d="M350.3 354.3 V347.3"/>
<path d="M32 149.0 H39.5"/><path d="M363.5 149.0 H356"/>
<path d="M32 119.6 H39.5"/><path d="M363.5 119.6 H356"/>
<path d="M32 90.2 H39.5"/><path d="M363.5 90.2 H356"/>
<path d="M32 60.9 H39.5"/><path d="M363.5 60.9 H356"/>
<path d="M32 31.6 H39.5"/><path d="M363.5 31.6 H356"/>
<path d="M32 320.8 H39.5"/><path d="M363.5 320.8 H356"/>
<path d="M32 287.2 H39.5"/><path d="M363.5 287.2 H356"/>
<path d="M32 253.7 H39.5"/><path d="M363.5 253.7 H356"/>
<path d="M32 220.1 H39.5"/><path d="M363.5 220.1 H356"/>
<path d="M32 186.6 H39.5"/><path d="M363.5 186.6 H356"/>
</g>
<text x="44.9" y="368.4" font-family="Liberation Sans, sans-serif" font-size="11.3" text-anchor="middle" fill="#111">420</text>
<text x="95.8" y="368.4" font-family="Liberation Sans, sans-serif" font-size="11.3" text-anchor="middle" fill="#111">440</text>
<text x="146.7" y="368.4" font-family="Liberation Sans, sans-serif" font-size="11.3" text-anchor="middle" fill="#111">460</text>
<text x="197.6" y="368.4" font-family="Liberation Sans, sans-serif" font-size="11.3" text-anchor="middle" fill="#111">480</text>
<text x="248.5" y="368.4" font-family="Liberation Sans, sans-serif" font-size="11.3" text-anchor="middle" fill="#111">500</text>
<text x="299.4" y="368.4" font-family="Liberation Sans, sans-serif" font-size="11.3" text-anchor="middle" fill="#111">520</text>
<text x="350.3" y="368.4" font-family="Liberation Sans, sans-serif" font-size="11.3" text-anchor="middle" fill="#111">540</text>
<text x="186.5" y="390" font-family="Liberation Sans, sans-serif" font-size="13.3" text-anchor="middle" fill="#111">wavelength / nm</text>
<text transform="translate(10.9 182.9) rotate(-90)" font-family="Liberation Sans, sans-serif" font-size="13.4" text-anchor="middle" fill="#111">A (norm.)</text>
<text transform="translate(387.6 181.3) rotate(-90)" font-family="Liberation Sans, sans-serif" font-size="14.4" text-anchor="middle" fill="#111">S</text>
<text x="53.8" y="28.7" font-family="Liberation Sans, sans-serif" font-size="14.8" font-weight="bold" fill="#000">A</text>
<text x="54.6" y="208.4" font-family="Liberation Sans, sans-serif" font-size="14.8" font-weight="bold" fill="#000">B</text>
<text x="297.0" y="33.4" font-family="Liberation Sans, sans-serif" font-size="11.3" font-weight="bold" fill="#000">YOYO-1</text>
<path d="M294.0 42.5 H312.0" stroke="#ff0808" stroke-width="2"/>
<text x="317.0" y="46.3" font-family="Liberation Sans, sans-serif" font-size="11.7" fill="#111">5 <tspan font-style="italic">&#956;</tspan>M</text>
<path d="M294.0 54.0 H312.0" stroke="#4ee818" stroke-width="2"/>
<text x="317.0" y="57.8" font-family="Liberation Sans, sans-serif" font-size="11.7" fill="#111">10 <tspan font-style="italic">&#956;</tspan>M</text>
<path d="M294.0 65.9 H312.0" stroke="#2446fa" stroke-width="2"/>
<text x="317.0" y="69.7" font-family="Liberation Sans, sans-serif" font-size="11.7" fill="#111">20 <tspan font-style="italic">&#956;</tspan>M</text>
<path d="M294.0 77.7 H312.0" stroke="#5426f0" stroke-width="2"/>
<text x="317.0" y="81.5" font-family="Liberation Sans, sans-serif" font-size="11.7" fill="#111">40 <tspan font-style="italic">&#956;</tspan>M</text>
<text x="297.2" y="204.0" font-family="Liberation Sans, sans-serif" font-size="11.3" font-weight="bold" fill="#000">YOSAC-1</text>
<path d="M295.0 212.9 H313.0" stroke="#ff0808" stroke-width="2"/>
<text x="318.0" y="216.7" font-family="Liberation Sans, sans-serif" font-size="11.7" fill="#111">2 <tspan font-style="italic">&#956;</tspan>M</text>
<path d="M295.0 224.5 H313.0" stroke="#4ee818" stroke-width="2"/>
<text x="318.0" y="228.3" font-family="Liberation Sans, sans-serif" font-size="11.7" fill="#111">5 <tspan font-style="italic">&#956;</tspan>M</text>
<path d="M295.0 236.4 H313.0" stroke="#2446fa" stroke-width="2"/>
<text x="318.0" y="240.2" font-family="Liberation Sans, sans-serif" font-size="11.7" fill="#111">10 <tspan font-style="italic">&#956;</tspan>M</text>
<path d="M295.0 248.1 H313.0" stroke="#5426f0" stroke-width="2"/>
<text x="318.0" y="251.9" font-family="Liberation Sans, sans-serif" font-size="11.7" fill="#111">20 <tspan font-style="italic">&#956;</tspan>M</text>
<path d="M150.4 141.1 H183.6" stroke="#000" stroke-width="2"/>
<path d="M150.4 156.5 H183.6" stroke="#000" stroke-width="2" stroke-dasharray="3.6 1.5"/>
<text x="192" y="143.6" font-family="Liberation Sans, sans-serif" font-size="11.5" fill="#111">interface</text>
<text x="192" y="159.3" font-family="Liberation Sans, sans-serif" font-size="11.5" fill="#111">bulk</text>
<path d="M110.9 59.2 H76.8" stroke="#000" stroke-width="2.2" stroke-dasharray="3.3 1.7"/><path d="M70.8 59.2 L79.3 56.9 L78.5 59.2 L79.3 61.5 Z" fill="#000"/>
<path d="M150.0 93.1 H183.0" stroke="#000" stroke-width="2.2" /><path d="M189.0 93.1 L180.5 90.8 L181.3 93.1 L180.5 95.4 Z" fill="#000"/>
<path d="M299.3 278.6 H333.0" stroke="#000" stroke-width="2.2" /><path d="M339.0 278.6 L330.5 276.3 L331.3 278.6 L330.5 280.9 Z" fill="#000"/>
<path d="M221.7 295.9 H188.0" stroke="#000" stroke-width="2.2" stroke-dasharray="3.3 1.7"/><path d="M182.0 295.9 L190.5 293.6 L189.7 295.9 L190.5 298.2 Z" fill="#000"/>
</svg>
</body></html>
